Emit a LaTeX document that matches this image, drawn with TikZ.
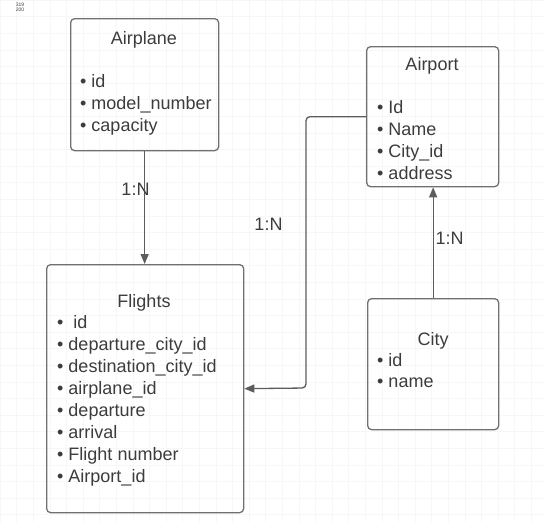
\documentclass[tikz,border=0pt]{standalone}
\usepackage{fontspec}
\setmainfont{Liberation Sans}
\usetikzlibrary{positioning}
\usetikzlibrary{arrows.meta, positioning}
\definecolor{inkgray}{HTML}{3C3C3C}
\definecolor{linegray}{HTML}{5C5C5C}
\definecolor{boxgray}{HTML}{707070}
\tikzstyle{arrow} = [draw=linegray, line width=1.3pt, -{Triangle[length=10pt, width=8pt]}]
\tikzstyle{entity} = [draw=boxgray, line width=1.3pt, rounded corners=4pt, anchor=north west, inner sep=0pt]
\tikzstyle{title} = [anchor=base, inner sep=0pt, text=inkgray, font=\fontsize{18}{21}\selectfont]
\tikzstyle{attr} = [anchor=base west, inner sep=0pt, text=inkgray, font=\fontsize{18}{21}\selectfont]
\tikzstyle{card} = [anchor=base, inner sep=0pt, text=inkgray, font=\fontsize{18}{21}\selectfont]

\begin{document}
\begin{tikzpicture}[x=1pt, y=-1pt]
    \useasboundingbox (0,0) rectangle (545,522);
    % Grid
    \draw[black!3, line width=0.6pt, step=16.6pt] (0,0) grid (545,522);
    \node[inner sep=0pt, align=center, text=black!75, font=\fontsize{5}{5}\selectfont] (cursor) at (20,7) {319\\200};

    % Entities
    \node[entity, minimum width=148pt, minimum height=132pt] (airplane) at (70,18) {};
    \node[entity, minimum width=132pt, minimum height=140pt] (airport) at (366,46) {};
    \node[entity, minimum width=197pt, minimum height=248pt] (flights) at (46,264) {};
    \node[entity, minimum width=131pt, minimum height=131pt] (city) at (367,298) {};

    % Titles
    \node[title] (airplane-title) at (144,44) {Airplane};
    \node[title] (airport-title) at (432,70) {Airport};
    \node[title] (flights-title) at (144,307) {Flights};
    \node[title] (city-title) at (433,345) {City};

    % Attributes
    \foreach \txt [count=\i] in {id, model\_number, capacity}
        \node[attr] (airplane-\i) at (80,{87+22*(\i-1)}) {• \txt};
    \foreach \txt [count=\i] in {Id, Name, City\_id, address}
        \node[attr] (airport-\i) at (377,{113+22.3*(\i-1)}) {• \txt};
    \foreach \txt [count=\i] in {\ id, departure\_city\_id, destination\_city\_id, airplane\_id, departure, arrival, Flight number, Airport\_id}
        \node[attr] (flights-\i) at (57,{328+22*(\i-1)}) {• \txt};
    \foreach \txt [count=\i] in {id, name}
        \node[attr] (city-\i) at (377,{366+21*(\i-1)}) {• \txt};

    % Relations
    \coordinate (elbow) at (306,388);
    \draw[arrow] (airplane.south) -- (airplane.south |- flights.north);
    \draw[arrow, rounded corners=4pt] (airport.west) -| (elbow) -- (flights.east);
    \draw[arrow] (city.north) -- (city.north |- airport.south);

    % Cardinalities
    \node[card] (airplane-card) at (135.5,195) {1:N};
    \node[card] (airport-card) at (268.5,230) {1:N};
    \node[card] (city-card) at (449.5,244) {1:N};
\end{tikzpicture}
\end{document}
